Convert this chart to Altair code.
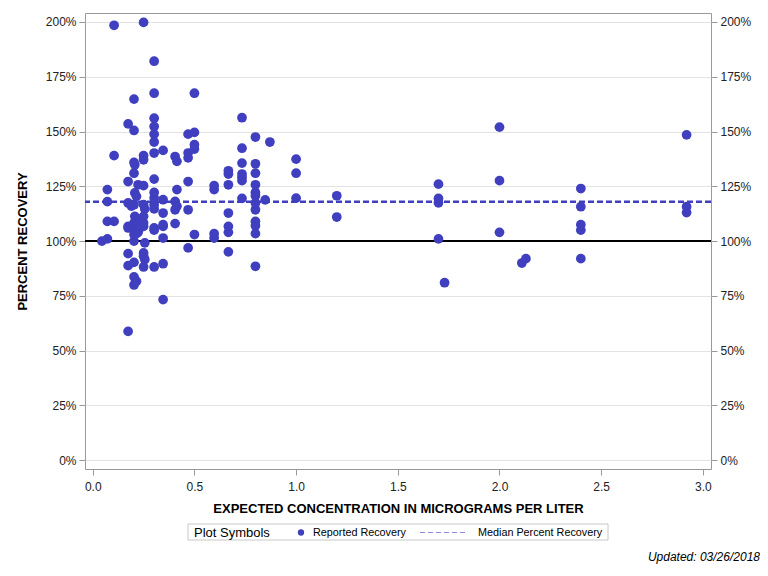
import altair as alt
import pandas as pd

# Expected concentration levels (micrograms per liter) and the percent recoveries reported at each
conc_levels = [0.045, 0.072, 0.105, 0.174, 0.190, 0.203, 0.207, 0.215, 0.223, 0.231,
               0.250, 0.256, 0.302, 0.346, 0.405, 0.414, 0.469, 0.500, 0.597, 0.667,
               0.734, 0.800, 0.848, 0.871, 1.000, 1.200, 1.700, 1.730, 2.000, 2.110,
               2.130, 2.400, 2.920]
recovery_by_level = [
    [100],
    [101, 109, 118, 123.5],
    [109, 139, 198.5],
    [58.8, 88.8, 94.3, 106, 106.7, 117.4, 127.2, 153.5],
    [116],
    [80, 83.7, 90.3, 100, 103, 106.7, 108.3, 116.6, 131, 135.9, 150.5, 164.8],
    [111.3, 122, 134.8],
    [81.7, 103.4, 109.8, 120.4],
    [104, 107.5, 125.7],
    [106],
    [88.2, 93.1, 94.6, 106.7, 108.3, 111.3, 116.6, 125.3, 137.1, 139, 199.8],
    [91.6, 99.2, 114.7],
    [88.2, 105, 106, 114.7, 116.6, 119.7, 122.2, 128.3, 140.2, 145.2, 148.8, 152.3, 156.1, 167.5, 182.1],
    [73.3, 89.7, 101.4, 106.7, 107.5, 112.8, 118.9, 141.4],
    [108, 114.3, 118.1, 138.6],
    [115.9, 123.5, 136.4],
    [96.9, 114.3, 127.2, 138, 140.2, 148.8],
    [103, 142, 144, 149.6, 167.5],
    [101.4, 103.4, 123.5, 125.3],
    [95.1, 104, 106.7, 112.8, 125.7, 130.6, 132.1],
    [119.5, 127.6, 129.1, 130.6, 135.6, 142.4, 156.3],
    [88.5, 103.4, 107, 109, 114.3, 117.4, 120.7, 122.2, 125.7, 131, 135.3, 147.5],
    [118.8],
    [145.2],
    [119.6, 131, 137.4],
    [111, 120.7],
    [101, 117.5, 119.5, 126],
    [81],
    [104, 127.6, 152],
    [90],
    [92],
    [92, 105, 107.5, 115.7, 124],
    [113, 115.7, 148.5],
]
reference_pct = [100]
median_pct = [118]
y_ticks = [0, 25, 50, 75, 100, 125, 150, 175, 200]
x_ticks = [0.0, 0.5, 1.0, 1.5, 2.0, 2.5, 3.0]

rows = [{"conc": c, "pct": p} for c, ps in zip(conc_levels, recovery_by_level) for p in ps]
df = pd.DataFrame(rows)
ref_df = pd.DataFrame({"pct": reference_pct})
med_df = pd.DataFrame({"pct": median_pct})
one = pd.DataFrame({"a": [0]})

FONT = "Liberation Sans"
BLUE = "#3f3fbf"

xscale = alt.Scale(domain=[-0.038, 3.04], nice=False, zero=False)
yscale = alt.Scale(domain=[-4.0, 204.1], nice=False, zero=False)

x_axis = alt.Axis(values=x_ticks, format=".1f", title="EXPECTED CONCENTRATION IN MICROGRAMS PER LITER",
                  grid=False, domain=False, tickColor="#999", tickSize=6, labelPadding=6,
                  labelFont=FONT, labelFontSize=12, labelColor="#222",
                  titleFont=FONT, titleFontSize=13, titleFontWeight="bold", titleColor="#000",
                  titlePadding=10)
y_axis_left = alt.Axis(values=y_ticks, labelExpr="datum.value + '%'", title="PERCENT RECOVERY",
                       grid=True, gridColor="#e3e3e3", domain=False, tickColor="#999", tickSize=6,
                       labelPadding=3, labelFont=FONT, labelFontSize=12, labelColor="#222",
                       titleFont=FONT, titleFontSize=13, titleFontWeight="bold", titleColor="#000",
                       titlePadding=16)
y_axis_right = alt.Axis(values=y_ticks, labelExpr="datum.value + '%'", title=None, orient="right",
                        grid=False, domain=False, tickColor="#999", tickSize=6, labelPadding=3,
                        labelFont=FONT, labelFontSize=12, labelColor="#222")

ref_rule = alt.Chart(ref_df).mark_rule(color="black", strokeWidth=2).encode(
    y=alt.Y("pct:Q", scale=yscale, axis=y_axis_right)
)
med_rule = alt.Chart(med_df).mark_rule(color=BLUE, strokeWidth=2.5, strokeDash=[6, 3]).encode(
    y=alt.Y("pct:Q", scale=yscale, axis=None)
)
points = alt.Chart(df).mark_circle(size=95, color=BLUE, opacity=1).encode(
    x=alt.X("conc:Q", scale=xscale, axis=x_axis),
    y=alt.Y("pct:Q", scale=yscale, axis=y_axis_left),
)

# legend box (manual)
leg_box = alt.Chart(one).mark_rect(fill="white", stroke="#c8c8c8", strokeWidth=1).encode(
    x=alt.value(103), x2=alt.value(523), y=alt.value(511), y2=alt.value(527)
)
leg_title = alt.Chart(one).mark_text(text="Plot Symbols", font=FONT, fontSize=13, align="left",
                                     baseline="middle", color="#000").encode(
    x=alt.value(109), y=alt.value(519.5)
)
leg_dot = alt.Chart(one).mark_circle(size=40, color=BLUE, opacity=1).encode(
    x=alt.value(216), y=alt.value(519.5)
)
leg_t1 = alt.Chart(one).mark_text(text="Reported Recovery", font=FONT, fontSize=10.8, align="left",
                                  baseline="middle", color="#000").encode(
    x=alt.value(228), y=alt.value(519.5)
)
leg_line = alt.Chart(one).mark_rule(color="#8a8ae0", strokeWidth=1, strokeDash=[5, 3]).encode(
    x=alt.value(335), x2=alt.value(381), y=alt.value(519.5)
)
leg_t2 = alt.Chart(one).mark_text(text="Median Percent Recovery", font=FONT, fontSize=10.8, align="left",
                                  baseline="middle", color="#000").encode(
    x=alt.value(393), y=alt.value(519.5)
)
updated = alt.Chart(one).mark_text(text="Updated: 03/26/2018", font=FONT, fontSize=12, fontStyle="italic",
                                   align="right", baseline="middle", color="#000").encode(
    x=alt.value(675), y=alt.value(544)
)

chart = alt.layer(
    ref_rule, med_rule, points, leg_box, leg_title, leg_dot, leg_t1, leg_line, leg_t2, updated
).resolve_axis(y="independent").properties(
    width=626, height=456,
    autosize=alt.AutoSizeParams(type="none"),
    padding={"left": 77, "top": 5, "right": 49, "bottom": 99},
).configure_view(stroke="#999", strokeWidth=1)

chart.save("out.html", embed_options={"renderer": "svg", "actions": False})
